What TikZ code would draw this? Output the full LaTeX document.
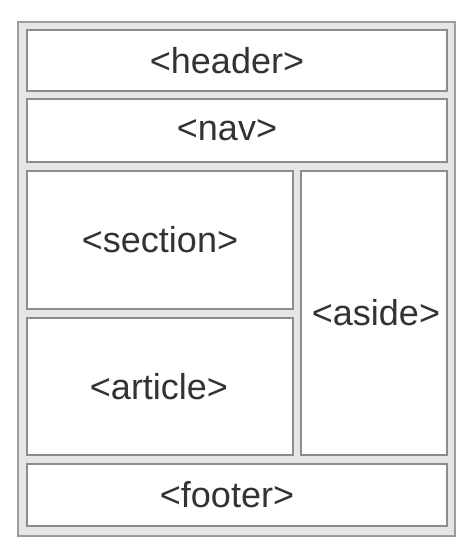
\documentclass[tikz,border=0pt]{standalone}
\usepackage{fontspec}
\setmainfont{Liberation Sans}
\usepackage{xcolor}
\definecolor{frame}{HTML}{8C8C8C}
\definecolor{panel}{HTML}{E6E6E6}
\definecolor{ink}{HTML}{333333}
\tikzset{blk/.style={draw=frame, line width=2pt, fill=white, inner sep=0pt},
  tag/.style={text=ink, inner sep=0pt, font=\fontsize{36}{40}\selectfont}}

\begin{document}
\begin{tikzpicture}[x=1pt, y=-1pt]
\useasboundingbox (0,0) rectangle (472,552);
\draw[frame!85, line width=2pt, fill=panel] (18,22) rectangle (455,536);
\foreach \n/\cx/\cy/\w/\h/\dx/\t in {hdr/237/60.5/420/61/-10/header, nav/237/130.5/420/63/-10/nav,
  sec/160/240/266/138/0/section, art/160/386.5/266/137/-1/article,
  aside/374/313/146/284/2/aside, ftr/237/495/420/62/-10/footer} {
 \node[blk, minimum width=\w pt, minimum height=\h pt] (\n) at (\cx,\cy) {};
 \node[tag, xshift=\dx pt] (\n-txt) at (\n) {<\t>};
}
\end{tikzpicture}
\end{document}
